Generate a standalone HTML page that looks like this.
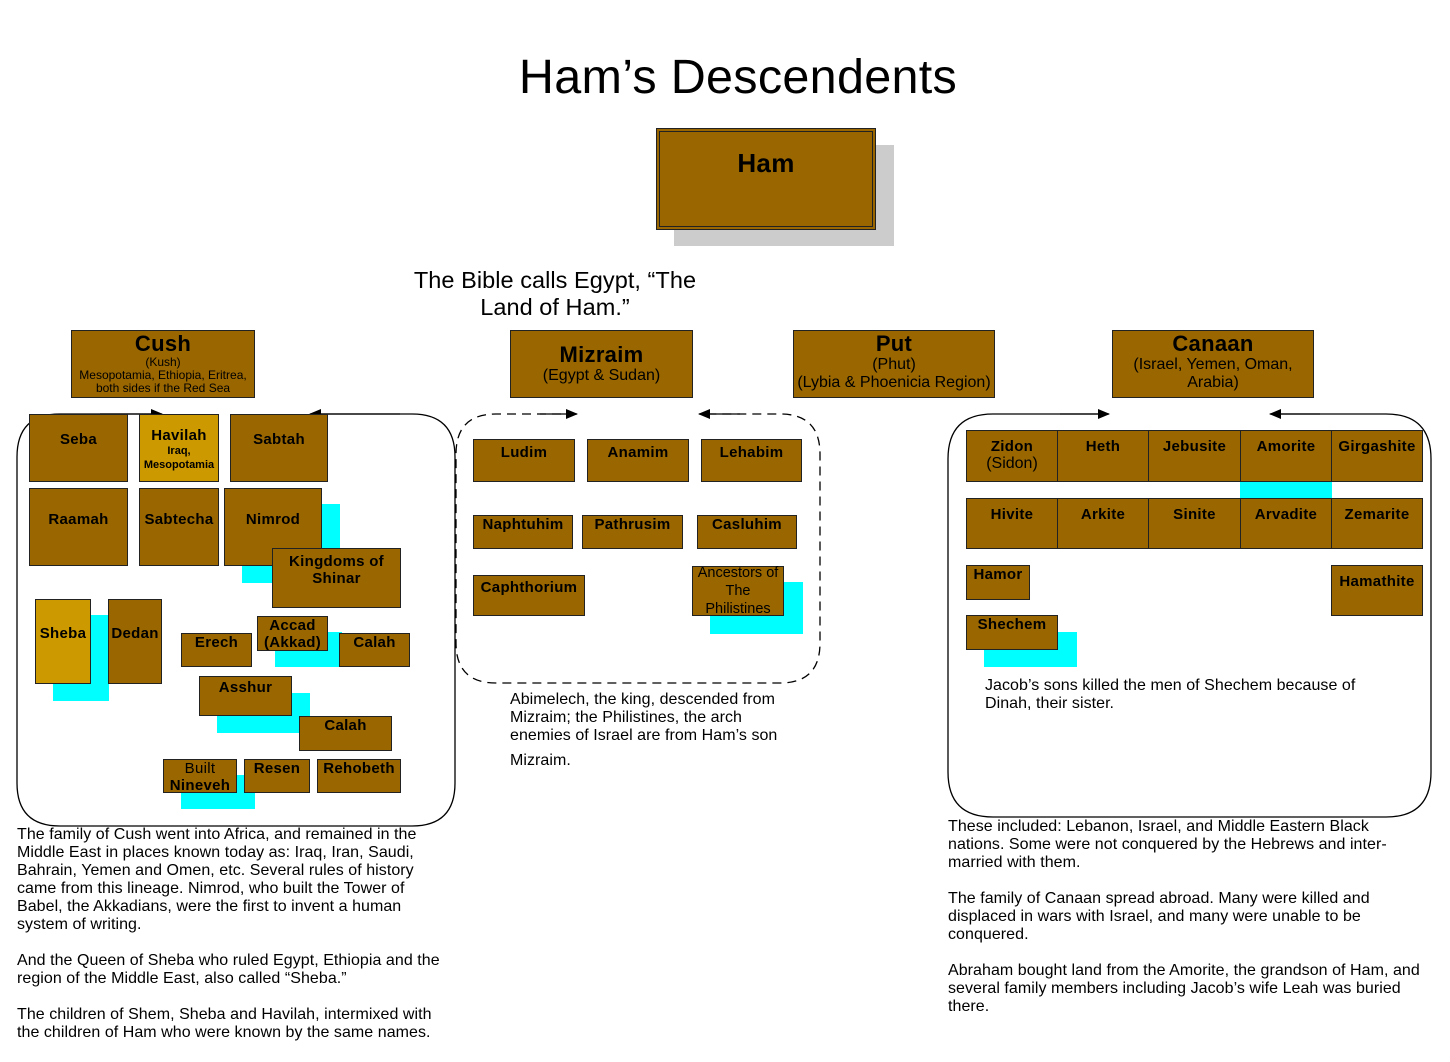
<!DOCTYPE html>
<html><head><meta charset="utf-8"><style>
body{margin:0;width:1450px;height:1062px;background:#fff;position:relative;overflow:hidden;font-family:"Liberation Sans",Arial,sans-serif;color:#000}
.a{position:absolute;box-sizing:border-box}
.b{position:absolute;box-sizing:border-box;background:#996600;border:1.5px solid #222;text-align:center;font-weight:bold;font-size:15px;line-height:17px;padding-top:4px;white-space:nowrap;overflow:visible;letter-spacing:0.3px}
.g{background:#cc9900}
.c{position:absolute;background:#00ffff}
.t{position:absolute;font-size:16px;line-height:18px;white-space:nowrap;letter-spacing:0.05px}
.h{font-size:22px;line-height:24px;padding-top:1px}
.s{font-weight:normal;font-size:16px;line-height:18px;letter-spacing:0}
</style></head><body>
<svg class="a" style="left:0;top:0" width="1450" height="1062">
<defs><marker id="m" markerWidth="12" markerHeight="10" refX="11" refY="5" orient="auto" markerUnits="userSpaceOnUse"><path d="M0,0L12,5L0,10z" fill="#000"/></marker></defs>
<path d="M160,414 H60 Q17,414 17,457 V783 Q17,826 60,826 H412 Q455,826 455,783 V457 Q455,414 412,414 H312" fill="none" stroke="#000" stroke-width="1.3"/>
<path d="M100,414 H162" stroke="#000" stroke-width="1.3" marker-end="url(#m)"/>
<path d="M400,414 H310" stroke="#000" stroke-width="1.3" marker-end="url(#m)"/>
<path d="M576,414 H496 Q456,414 456,454 V643 Q456,683 496,683 H780 Q820,683 820,643 V454 Q820,414 780,414 H700" fill="none" stroke="#000" stroke-width="1.3" stroke-dasharray="9,6"/>
<path d="M540,414 H577" stroke="#000" stroke-width="1.3" marker-end="url(#m)"/>
<path d="M740,414 H699" stroke="#000" stroke-width="1.3" marker-end="url(#m)"/>
<path d="M1108,414 H993 Q948,414 948,459 V772 Q948,817 993,817 H1386 Q1431,817 1431,772 V459 Q1431,414 1386,414 H1271" fill="none" stroke="#000" stroke-width="1.3"/>
<path d="M1060,414 H1109" stroke="#000" stroke-width="1.3" marker-end="url(#m)"/>
<path d="M1320,414 H1270" stroke="#000" stroke-width="1.3" marker-end="url(#m)"/>
</svg>
<div class="t" style="left:0;width:1476px;text-align:center;top:49px;font-size:48.5px;line-height:56px;letter-spacing:0.3px">Ham’s Descendents</div>
<div class="a" style="left:674px;top:145px;width:220px;height:101px;background:#cccccc"></div>
<div class="b" style="left:656px;top:128px;width:220px;height:102px;border:4px double #222;font-size:26px;line-height:30px;padding-top:16px">Ham</div>
<div class="t" style="left:400px;top:267px;width:310px;text-align:center;font-size:23.5px;line-height:27px;white-space:normal">The Bible calls Egypt, “The Land of Ham.”</div>

<div class="b h" style="left:71px;top:330px;width:184px;height:68px">Cush<div class="s" style="font-size:12px;line-height:13px">(Kush)<br>Mesopotamia, Ethiopia, Eritrea,<br>both sides if the Red Sea</div></div>
<div class="b h" style="left:510px;top:330px;width:183px;height:68px;padding-top:12px">Mizraim<div class="s">(Egypt &amp; Sudan)</div></div>
<div class="b h" style="left:793px;top:330px;width:202px;height:68px">Put<div class="s">(Phut)<br>(Lybia &amp; Phoenicia Region)</div></div>
<div class="b h" style="left:1112px;top:330px;width:202px;height:68px">Canaan<div class="s">(Israel, Yemen, Oman,<br>Arabia)</div></div>

<!-- Cush family -->
<div class="b" style="left:29px;top:414px;width:99px;height:68px;padding-top:16px">Seba</div>
<div class="b g" style="left:139px;top:414px;width:80px;height:68px;padding-top:12px">Havilah<div style="font-size:11px;line-height:14px;letter-spacing:0">Iraq,<br>Mesopotamia</div></div>
<div class="b" style="left:230px;top:414px;width:98px;height:68px;padding-top:16px">Sabtah</div>
<div class="b" style="left:29px;top:488px;width:99px;height:78px;padding-top:22px">Raamah</div>
<div class="b" style="left:139px;top:488px;width:80px;height:78px;padding-top:22px">Sabtecha</div>
<div class="c" style="left:242px;top:504px;width:98px;height:79px"></div>
<div class="b" style="left:224px;top:488px;width:98px;height:78px;padding-top:22px">Nimrod</div>
<div class="b" style="left:272px;top:548px;width:129px;height:60px">Kingdoms of<br>Shinar</div>
<div class="c" style="left:53px;top:615px;width:56px;height:86px"></div>
<div class="b g" style="left:35px;top:599px;width:56px;height:85px;padding-top:25px">Sheba</div>
<div class="b" style="left:108px;top:599px;width:54px;height:85px;padding-top:25px">Dedan</div>
<div class="b" style="left:181px;top:633px;width:71px;height:34px;padding-top:0">Erech</div>
<div class="c" style="left:275px;top:632px;width:67px;height:35px"></div>
<div class="b" style="left:257px;top:616px;width:71px;height:35px;padding-top:0">Accad<br>(Akkad)</div>
<div class="b" style="left:339px;top:633px;width:71px;height:34px;padding-top:0">Calah</div>
<div class="c" style="left:217px;top:693px;width:93px;height:40px"></div>
<div class="b" style="left:199px;top:676px;width:93px;height:40px;padding-top:2px">Asshur</div>
<div class="b" style="left:299px;top:716px;width:93px;height:35px;padding-top:0">Calah</div>
<div class="c" style="left:181px;top:775px;width:74px;height:34px"></div>
<div class="b" style="left:163px;top:759px;width:74px;height:34px;padding-top:0"><span style="font-weight:normal">Built</span><br>Nineveh</div>
<div class="b" style="left:244px;top:759px;width:66px;height:34px;padding-top:0">Resen</div>
<div class="b" style="left:317px;top:759px;width:84px;height:34px;padding-top:0">Rehobeth</div>

<!-- Mizraim family -->
<div class="b" style="left:473px;top:439px;width:102px;height:43px;padding-top:4px">Ludim</div>
<div class="b" style="left:587px;top:439px;width:102px;height:43px;padding-top:4px">Anamim</div>
<div class="b" style="left:701px;top:439px;width:101px;height:43px;padding-top:4px">Lehabim</div>
<div class="b" style="left:473px;top:515px;width:100px;height:34px;padding-top:0">Naphtuhim</div>
<div class="b" style="left:582px;top:515px;width:101px;height:34px;padding-top:0">Pathrusim</div>
<div class="b" style="left:697px;top:515px;width:100px;height:34px;padding-top:0">Casluhim</div>
<div class="b" style="left:473px;top:575px;width:112px;height:41px;padding-top:3px">Caphthorium</div>
<div class="c" style="left:710px;top:582px;width:93px;height:52px"></div>
<div class="b" style="left:692px;top:566px;width:92px;height:50px;padding-top:0;font-weight:normal;font-size:14.5px;line-height:18px;letter-spacing:0"><div style="margin-top:-3px">Ancestors of<br>The<br>Philistines</div></div>
<div class="t" style="left:510px;top:691px">Abimelech, the king, descended from<br>Mizraim; the Philistines, the arch<br>enemies of Israel are from Ham’s son</div>
<div class="t" style="left:510px;top:752px">Mizraim.</div>

<!-- Canaan family -->
<div class="c" style="left:1240px;top:481px;width:92px;height:17px"></div>
<div class="b" style="left:966px;top:430px;width:92px;height:52px;padding-top:7px">Zidon<div class="s">(Sidon)</div></div>
<div class="b" style="left:1057px;top:430px;width:92px;height:52px;padding-top:7px">Heth</div>
<div class="b" style="left:1148px;top:430px;width:93px;height:52px;padding-top:7px">Jebusite</div>
<div class="b" style="left:1240px;top:430px;width:92px;height:52px;padding-top:7px">Amorite</div>
<div class="b" style="left:1331px;top:430px;width:92px;height:52px;padding-top:7px">Girgashite</div>
<div class="b" style="left:966px;top:498px;width:92px;height:51px;padding-top:7px">Hivite</div>
<div class="b" style="left:1057px;top:498px;width:92px;height:51px;padding-top:7px">Arkite</div>
<div class="b" style="left:1148px;top:498px;width:93px;height:51px;padding-top:7px">Sinite</div>
<div class="b" style="left:1240px;top:498px;width:92px;height:51px;padding-top:7px">Arvadite</div>
<div class="b" style="left:1331px;top:498px;width:92px;height:51px;padding-top:7px">Zemarite</div>
<div class="b" style="left:966px;top:565px;width:64px;height:35px;padding-top:0">Hamor</div>
<div class="b" style="left:1331px;top:565px;width:92px;height:51px;padding-top:7px">Hamathite</div>
<div class="c" style="left:984px;top:632px;width:93px;height:35px"></div>
<div class="b" style="left:966px;top:615px;width:92px;height:35px;padding-top:0">Shechem</div>
<div class="t" style="left:985px;top:677px">Jacob’s sons killed the men of Shechem because of<br>Dinah, their sister.</div>

<div class="t" style="left:17px;top:826px">The family of Cush went into Africa, and remained in the<br>Middle East in places known today as: Iraq, Iran, Saudi,<br>Bahrain, Yemen and Omen, etc. Several rules of history<br>came from this lineage. Nimrod, who built the Tower of<br>Babel, the Akkadians, were the first to invent a human<br>system of writing.<br><br>And the Queen of Sheba who ruled Egypt, Ethiopia and the<br>region of the Middle East, also called “Sheba.”<br><br>The children of Shem, Sheba and Havilah, intermixed with<br>the children of Ham who were known by the same names.</div>
<div class="t" style="left:948px;top:818px">These included: Lebanon, Israel, and Middle Eastern Black<br>nations. Some were not conquered by the Hebrews and inter-<br>married with them.<br><br>The family of Canaan spread abroad. Many were killed and<br>displaced in wars with Israel, and many were unable to be<br>conquered.<br><br>Abraham bought land from the Amorite, the grandson of Ham, and<br>several family members including Jacob’s wife Leah was buried<br>there.</div>
</body></html>
